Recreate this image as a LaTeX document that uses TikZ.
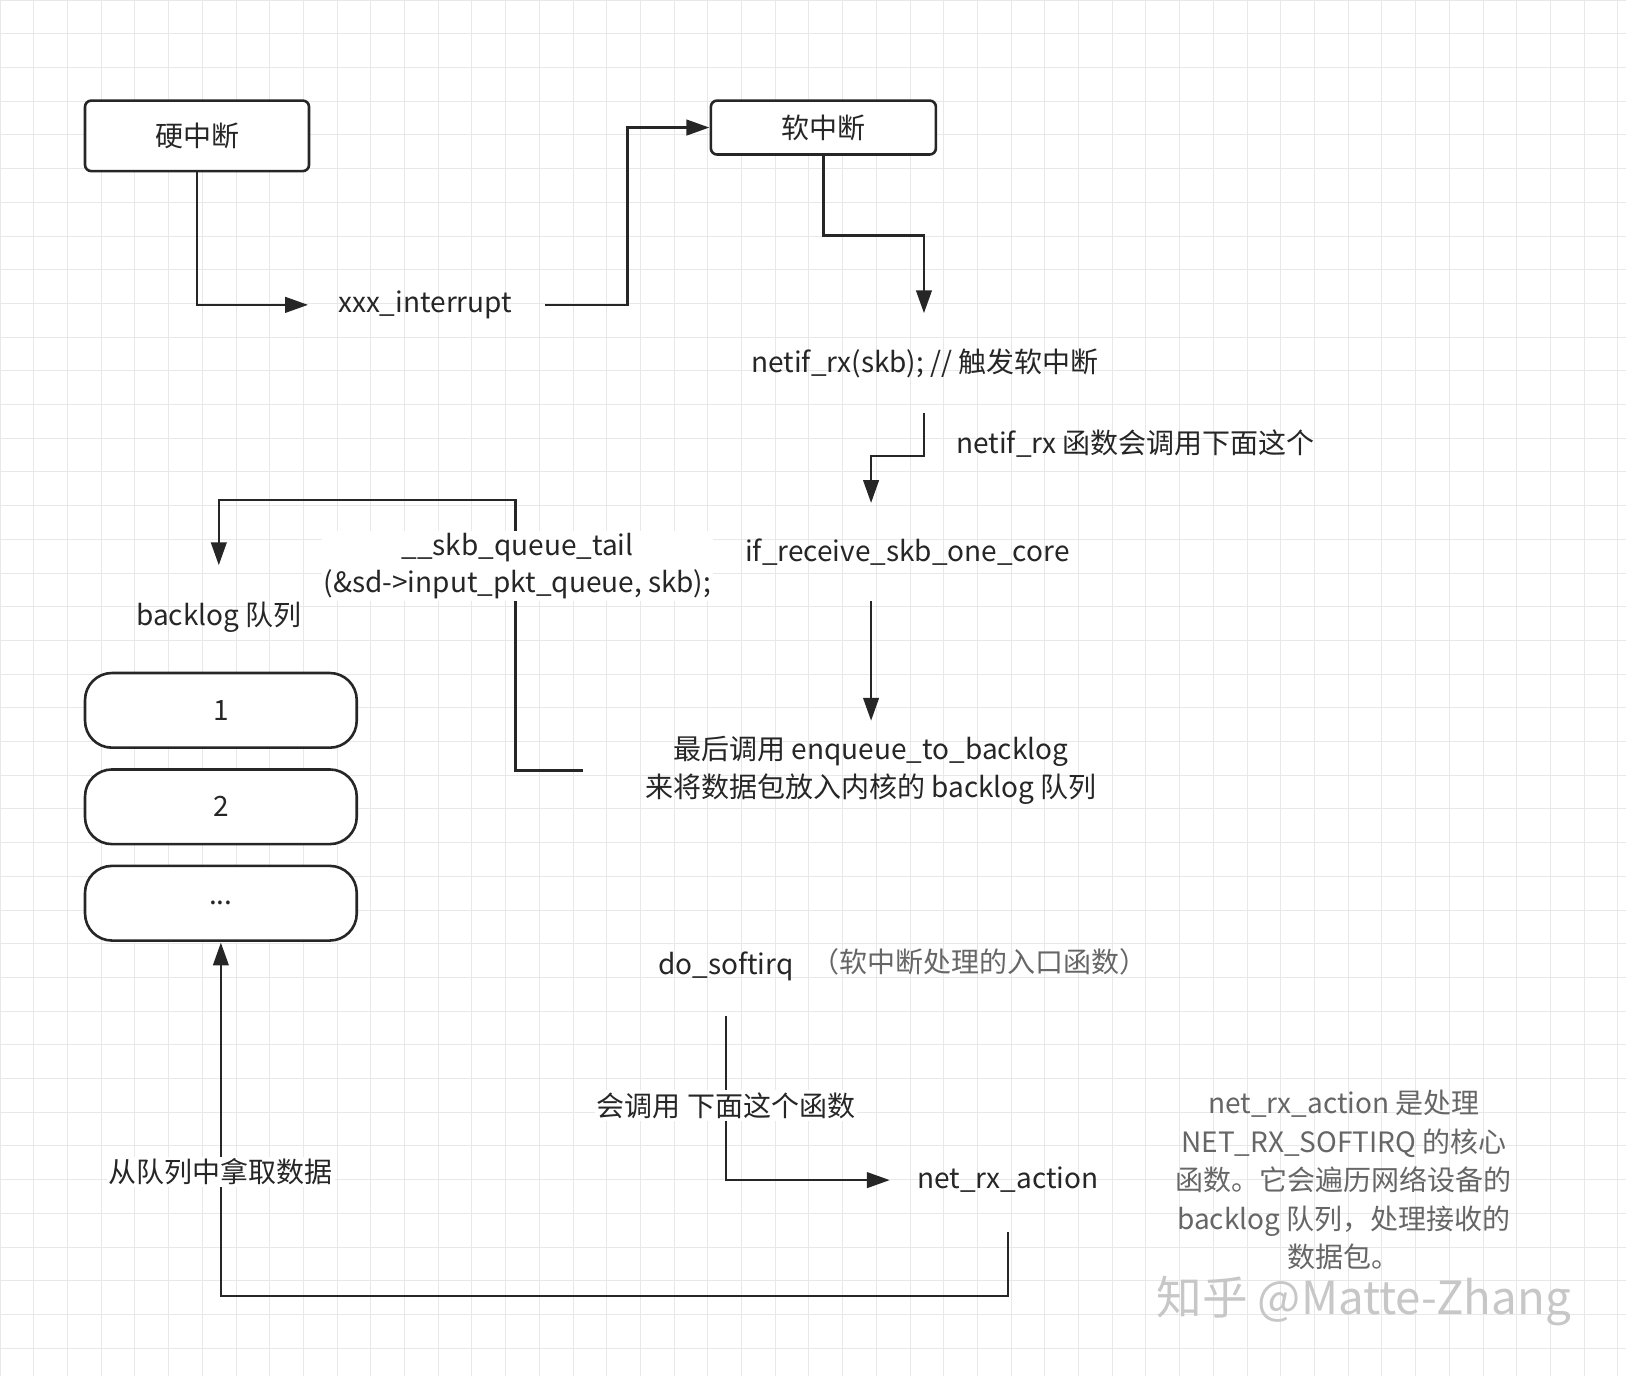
\documentclass[tikz,border=0pt]{standalone}
\usepackage{fontspec}
\setmainfont{Noto Sans CJK SC}
\usetikzlibrary{arrows.meta}
\begin{document}
\begin{tikzpicture}[x=1pt,y=-1pt,
  box/.style={draw=black!85,line width=2.5pt,rounded corners=6pt,fill=white},
  pill/.style={draw=black!85,line width=2.5pt,rounded corners=26pt,fill=white},
  ln/.style={line width=2.3pt,draw=black!85},
  ar/.style={ln,-{Triangle[length=22pt,width=15pt]}},
  txt/.style={font=\fontsize{27}{36}\selectfont,text=black!85},
  gtxt/.style={font=\fontsize{27}{37}\selectfont,text=black!60,align=center},
  wb/.style={fill=white,inner sep=2pt}]
\useasboundingbox (0,0) rectangle (1568,1327);
\fill[white] (0,0) rectangle (1568,1327);
\foreach \i in {0,...,48} \draw[black!9,line width=0.8pt] (\i*32.5,0) -- (\i*32.5,1327);
\foreach \i in {0,...,41} \draw[black!9,line width=0.8pt] (0,\i*32.5) -- (1568,\i*32.5);
% boxes
\node[box,minimum width=216pt,minimum height=68pt,txt] (hard) at (190,131) {硬中断};
\node[box,minimum width=217pt,minimum height=52pt,txt] (soft) at (794,123) {软中断};
\node[txt] (xxx) at (410,294) {xxx\_interrupt};
\node[txt] (netif) at (892,350) {netif\_rx(skb); // 触发软中断};
\node[txt] (note1) at (1095,428) {netif\_rx 函数会调用下面这个};
\node[txt] (ifrx) at (875,532) {if\_receive\_skb\_one\_core};
\node[txt,align=center] (enq) at (840,743) {最后调用 enqueue\_to\_backlog\\来将数据包放入内核的 backlog 队列};
\node[txt] (blq) at (211,595) {backlog 队列};
\node[pill,minimum width=262pt,minimum height=72pt,txt] (q1) at (213,685) {1};
\node[pill,minimum width=262pt,minimum height=72pt,txt] (q2) at (213,778) {2};
\node[pill,minimum width=262pt,minimum height=72pt,txt] (q3) at (213,871) {...};
\node[txt] (dosoft) at (700,932) {do\_softirq};
\node[gtxt] (dosoftn) at (945,928) {（软中断处理的入口函数）};
\node[txt] (netrx) at (972,1138) {net\_rx\_action};
\node[gtxt] (desc) at (1296,1138) {net\_rx\_action 是处理\\NET\_RX\_SOFTIRQ 的核心\\函数。它会遍历网络设备的\\backlog 队列，处理接收的\\数据包。};
% coordinates
\coordinate (a1) at (190,294); \coordinate (a2) at (297,294);
\coordinate (b0) at (526,294); \coordinate (b1) at (605,294); \coordinate (b2) at (605,123); \coordinate (b3) at (684,123);
\coordinate (c1) at (794,227); \coordinate (c2) at (891,227); \coordinate (c3) at (891,302);
\coordinate (d0) at (891,398); \coordinate (d1) at (891,440); \coordinate (d2) at (840,440); \coordinate (d3) at (840,485);
\coordinate (e0) at (840,580); \coordinate (e1) at (840,695);
\coordinate (f0) at (562,743); \coordinate (f1) at (497,743); \coordinate (f2) at (497,482); \coordinate (f3) at (211,482); \coordinate (f4) at (211,545);
\coordinate (g0) at (700,980); \coordinate (g1) at (700,1138); \coordinate (g2) at (858,1138);
\coordinate (h0) at (972,1188); \coordinate (h1) at (972,1250); \coordinate (h2) at (213,1250); \coordinate (h3) at (213,909);
% connectors
\draw[ar] (hard.south) -- (a1) -- (a2);
\draw[ar] (b0) -- (b1) -- (b2) -- (b3);
\draw[ar] (soft.south) -- (c1) -- (c2) -- (c3);
\draw[ar] (d0) -- (d1) -- (d2) -- (d3);
\draw[ar] (e0) -- (e1);
\draw[ar] (f0) -- (f1) -- (f2) -- (f3) -- (f4);
\draw[ar] (g0) -- (g1) -- (g2);
\draw[ar] (h0) -- (h1) -- (h2) -- (h3);
% labels with white bg
\node[txt,wb,align=center] (skbq) at (499,546) {\_\_skb\_queue\_tail\\(\&sd->input\_pkt\_queue, skb);};
\node[txt,wb] (call) at (700,1066) {会调用 下面这个函数};
\node[txt,wb] (take) at (213,1130) {从队列中拿取数据};
\node[font=\fontsize{44}{44}\selectfont,text=black!22] (wm) at (1315,1255) {知乎 @Matte-Zhang};
\end{tikzpicture}
\end{document}
